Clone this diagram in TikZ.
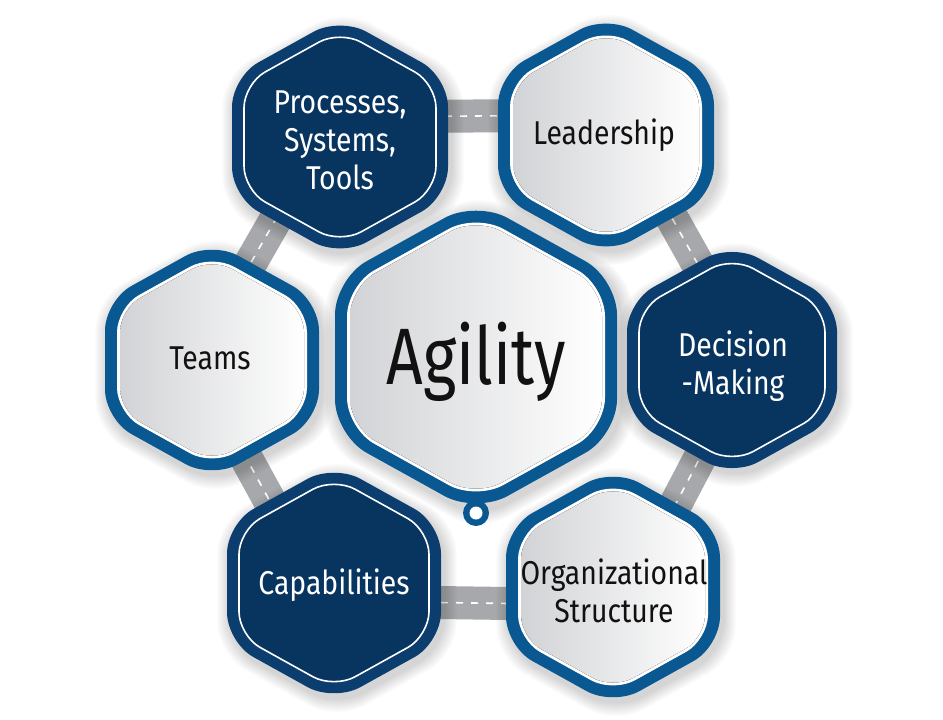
\documentclass[tikz,border=0pt]{standalone}
\usepackage{fontspec}
\setmainfont{Fira Sans}[FakeStretch=0.86]
\newfontfamily\bigfont{Fira Sans}[FakeStretch=0.8]
\usetikzlibrary{calc}
\definecolor{ringlight}{RGB}{10,88,145}
\definecolor{ringdark}{RGB}{11,62,110}
\definecolor{navy}{RGB}{8,53,96}
\definecolor{roadgray}{RGB}{167,168,171}
\definecolor{hexgray}{RGB}{210,211,214}
\definecolor{inktext}{RGB}{17,17,17}
\newcommand\hexpath[3]{({#1+(#3)},{#2}) -- ({#1+(#3)},{#2-0.555*(#3)}) -- ({#1},{#2-1.11*(#3)}) -- ({#1-(#3)},{#2-0.555*(#3)}) -- ({#1-(#3)},{#2+0.555*(#3)}) -- ({#1},{#2+1.11*(#3)}) -- ({#1+(#3)},{#2+0.555*(#3)}) -- cycle}
\newcommand\hexshadow[3]{\foreach \s in {1,...,7}{\fill[black,opacity=0.022,rounded corners=32pt] \hexpath{#1+3}{#2+5}{#3+\s*1.8};}}
\newcommand\lighthex[4]{%
  \fill[ringlight,rounded corners=#4pt] \hexpath{#1}{#2}{#3};
  \fill[white,rounded corners=#4pt-5pt] \hexpath{#1}{#2}{#3-12};
  \fill[left color=hexgray,right color=white,rounded corners=#4pt-7pt] \hexpath{#1}{#2}{#3-15};}
\newcommand\darkhex[4]{%
  \fill[ringdark,rounded corners=#4pt] \hexpath{#1}{#2}{#3};
  \draw[white,line width=1.6pt,fill=navy,rounded corners=#4pt-6pt] \hexpath{#1}{#2}{#3-12};}
\newcommand\roadseg[3]{%
  \draw[roadbase] ($(#1)+(#3)$) -- ($(#2)+(#3)$);
  \draw[roaddash] ($(#1)+(#3)$) -- ($(#2)+(#3)$);}
\begin{document}
\begin{tikzpicture}[x=1pt,y=-1pt,
  roadbase/.style={draw=roadgray,line width=33pt},
  roaddash/.style={draw=white,line width=1.6pt,dash pattern=on 7pt off 8pt},
  darklabel/.style={text=inktext,align=center,font=\fontsize{33}{38}\selectfont},
  whitelabel/.style={text=white,align=center,font=\fontsize{33}{38}\selectfont}]
\useasboundingbox (0,0) rectangle (943,720);
\fill[white] (0,0) rectangle (943,720);
% centres
\coordinate (proc) at (340,137);
\coordinate (lead) at (606,135);
\coordinate (dec) at (732,360);
\coordinate (org) at (613,587);
\coordinate (cap) at (334,583);
\coordinate (teams) at (212,360);
\coordinate (agi) at (476,357);
% roads
\roadseg{proc}{lead}{0,-20}
\roadseg{lead}{dec}{15,-8}
\roadseg{dec}{org}{15,8}
\roadseg{org}{cap}{0,18}
\roadseg{cap}{teams}{-15,8}
\roadseg{teams}{proc}{-13,-7}
% shadows
\hexshadow{340}{137}{108}
\hexshadow{606}{135}{108}
\hexshadow{732}{360}{105}
\hexshadow{613}{587}{107}
\hexshadow{334}{583}{107}
\hexshadow{212}{360}{107}
\hexshadow{476}{357}{141}
% hexagons
\darkhex{340}{137}{108}{30}
\lighthex{606}{135}{108}{30}
\darkhex{732}{360}{105}{30}
\lighthex{613}{587}{107}{30}
\darkhex{334}{583}{107}{30}
\lighthex{212}{360}{107}{30}
\lighthex{476}{357}{141}{36}
\fill[ringlight] (476,513) circle (13pt);
\fill[white] (476,513) circle (6.5pt);
% labels
\node[whitelabel] (proct) at (340,140) {Processes,\\Systems,\\Tools};
\node[darklabel] (leadt) at (604,135) {Leadership};
\node[whitelabel] (dect) at (733,366) {Decision\\-Making};
\node[darklabel] (orgt) at (614,591) {Organizational\\Structure};
\node[whitelabel] (capt) at (334,585) {Capabilities};
\node[darklabel] (teamst) at (210,358) {Teams};
\node[text=inktext] (agit) at (476,362) {\bigfont\fontsize{80}{80}\selectfont Agility};
\end{tikzpicture}
\end{document}
